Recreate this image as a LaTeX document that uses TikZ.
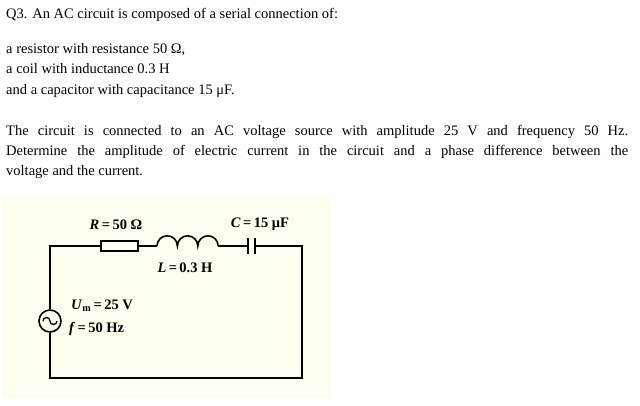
\documentclass[tikz,border=0pt]{standalone}
\usepackage{fontspec}
\setmainfont{Liberation Serif}
\usetikzlibrary{calc}
\definecolor{cream}{RGB}{253,253,240}
\begin{document}
\begin{tikzpicture}[x=1pt,y=-1pt,
  txt/.style={anchor=base west,inner sep=0,font=\fontsize{14.5}{17}\selectfont},
  lbl/.style={inner sep=0,font=\fontsize{14.5}{16}\selectfont\bfseries},
  wire/.style={line width=1.6pt}]
\useasboundingbox (0,0) rectangle (640,405);
\fill[white] (0,0) rectangle (640,405);
\fill[cream] (2,197) rectangle (331,398);
\node[txt] (t1) at (6,18) {Q3. An AC circuit is composed of a serial connection of:};
\node[txt] (t2) at (6,53) {a resistor with resistance 50 Ω,};
\node[txt] (t3) at (6,73) {a coil with inductance 0.3 H};
\node[txt] (t4) at (6,94) {and a capacitor with capacitance 15 μF.};
\node[txt] (t5) at (6,135) {\makebox[622pt][s]{The circuit is connected to an AC voltage source with amplitude 25 V and frequency 50 Hz.}};
\node[txt] (t6) at (6,155) {\makebox[622pt][s]{Determine the amplitude of electric current in the circuit and a phase difference between the}};
\node[txt] (t7) at (6,175) {voltage and the current.};
% circuit
\coordinate (tl) at (50,246);
\coordinate (tr) at (302,246);
\coordinate (bl) at (50,378);
\coordinate (br) at (302,378);
\node[draw,line width=1.4pt,minimum width=37pt,minimum height=10pt,inner sep=0] (R) at (119.5,246) {};
\node[draw,circle,line width=1.6pt,minimum size=22pt,inner sep=0] (U) at (50,321) {};
\draw[line width=1.3pt] ($(U)+(-7,0)$) arc[start angle=180,end angle=360,radius=3.5] arc[start angle=180,end angle=0,radius=3.5];
\coordinate (L1) at (157,246);
\coordinate (L2) at (218,246);
\coordinate (C1) at (248,246);
\coordinate (C2) at (255,246);
\draw[wire] (U.north) -- (tl) -- (R.west);
\draw[wire] (R.east) -- (L1);
\draw[wire] (L1) arc[start angle=180,end angle=360,radius=10.2] arc[start angle=180,end angle=360,radius=10.2] arc[start angle=180,end angle=360,radius=10.2];
\draw[wire] (L2) -- (C1);
\draw[wire] ($(C1)+(0,-8)$) -- ($(C1)+(0,8)$);
\draw[wire] ($(C2)+(0,-8)$) -- ($(C2)+(0,8)$);
\draw[wire] (C2) -- (tr) -- (br) -- (bl) -- (U.south);
\node[lbl] (lR) at (116,225) {\textit{R}\,=\,50 Ω};
\node[lbl] (lC) at (260,224) {\textit{C}\,=\,15 μF};
\node[lbl] (lL) at (185,268) {\textit{L}\,=\,0.3 H};
\node[lbl,anchor=base west] (lU) at (71,309) {\textit{U}\textsubscript{m}\,=\,25 V};
\node[lbl,anchor=base west] (lf) at (69,332) {\textit{f}\,=\,50 Hz};
\end{tikzpicture}
\end{document}
